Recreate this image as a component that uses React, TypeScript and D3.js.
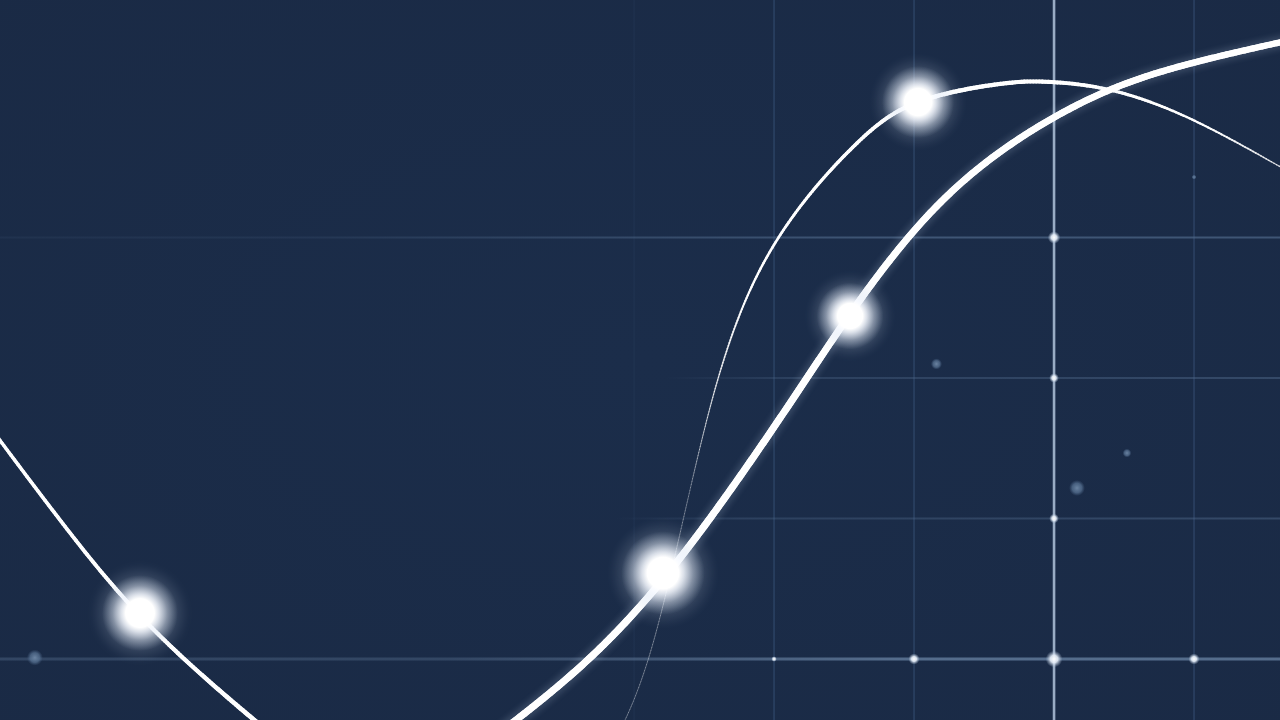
import React, { useEffect, useRef } from "react";
import * as d3 from "d3";

// grid positions (chart units)
const gridX = [-3, -2, -1, 0, 1];
const gridY = [0, 1, 2, 3];

// thin wave, left branch
const waveLeftX = [-7.743, -7.1, -6.386, -5.386];
const waveLeftY = [1.843, 0.989, 0.164, -0.705];

// thin wave, right branch
const waveRightX = [-3.243, -2.864, -2.443, -1.979, -1.436, -0.971, -0.386, -0.029, 0.4, 0.993, 1.757];
const waveRightY = [-0.754, 0.114, 1.843, 2.982, 3.644, 3.964, 4.093, 4.107, 4.05, 3.836, 3.423];

// thick growth curve
const growthX = [-4.171, -3.386, -2.671, -1.957, -1.457, -0.957, -0.386, 0.329, 1.043, 1.757];
const growthY = [-0.683, -0.057, 0.719, 1.715, 2.455, 3.096, 3.609, 4.021, 4.256, 4.42];

// glowing markers
const glowX = [-6.529, -2.793, -1.457, -0.971];
const glowY = [0.327, 0.612, 2.441, 3.964];
const glowSize = [1.0, 1.1, 0.88, 0.95];

// dust particles
const dustX = [-7.28, -0.84, 0.164, 0.521, 1.0];
const dustY = [0.01, 2.1, 1.217, 1.466, 3.43];
const dustSize = [1.0, 0.7, 1.0, 0.55, 0.3];

// grid nodes
const nodeX = [0, 0, 0, 0, -1, 1, -2];
const nodeY = [3, 2, 1, 0, 0, 0, 0];
const nodeSize = [0.9, 0.7, 0.7, 1.2, 0.8, 0.8, 0.4];

const W = 1280;
const H = 720;

export default function App() {
  const ref = useRef<SVGSVGElement | null>(null);

  useEffect(() => {
    const svg = d3.select(ref.current);
    svg.selectAll("*").remove();

    const x = d3.scaleLinear().domain([-7.529, 1.614]).range([0, W]);
    const y = d3.scaleLinear().domain([0, 3]).range([659, 237.5]);

    const defs = svg.append("defs");

    const bg = defs.append("radialGradient").attr("id", "bg").attr("cx", "50%").attr("cy", "50%").attr("r", "75%");
    bg.append("stop").attr("offset", "0%").attr("stop-color", "#1b2d4a");
    bg.append("stop").attr("offset", "100%").attr("stop-color", "#1a2a45");

    const glow = defs.append("radialGradient").attr("id", "glow");
    glow.append("stop").attr("offset", "0%").attr("stop-color", "#ffffff").attr("stop-opacity", 1);
    glow.append("stop").attr("offset", "38%").attr("stop-color", "#ffffff").attr("stop-opacity", 1);
    glow.append("stop").attr("offset", "50%").attr("stop-color", "#f4f8ff").attr("stop-opacity", 0.8);
    glow.append("stop").attr("offset", "72%").attr("stop-color", "#dfe8f5").attr("stop-opacity", 0.35);
    glow.append("stop").attr("offset", "100%").attr("stop-color", "#c8d6ea").attr("stop-opacity", 0);

    const dust = defs.append("radialGradient").attr("id", "dust");
    dust.append("stop").attr("offset", "0%").attr("stop-color", "#6f88a6").attr("stop-opacity", 0.95);
    dust.append("stop").attr("offset", "60%").attr("stop-color", "#5a7596").attr("stop-opacity", 0.7);
    dust.append("stop").attr("offset", "100%").attr("stop-color", "#4a6486").attr("stop-opacity", 0);

    const node = defs.append("radialGradient").attr("id", "node");
    node.append("stop").attr("offset", "0%").attr("stop-color", "#ffffff").attr("stop-opacity", 1);
    node.append("stop").attr("offset", "45%").attr("stop-color", "#e8f0fa").attr("stop-opacity", 0.9);
    node.append("stop").attr("offset", "100%").attr("stop-color", "#a9bbd2").attr("stop-opacity", 0);

    const blur = defs.append("filter").attr("id", "blur").attr("x", "-50%").attr("y", "-50%").attr("width", "200%").attr("height", "200%");
    blur.append("feGaussianBlur").attr("stdDeviation", 3);
    const soft = defs.append("filter").attr("id", "soft").attr("x", "-50%").attr("y", "-50%").attr("width", "200%").attr("height", "200%");
    soft.append("feGaussianBlur").attr("stdDeviation", 0.6);

    // horizontal line gradients
    const hGrad = (id: string, stops: [number, number][], color: string) => {
      const g = defs.append("linearGradient").attr("id", id).attr("gradientUnits", "userSpaceOnUse")
        .attr("x1", 0).attr("x2", W).attr("y1", 0).attr("y2", 0);
      stops.forEach(([o, a]) => g.append("stop").attr("offset", o).attr("stop-color", color).attr("stop-opacity", a));
    };
    hGrad("h0", [[0, 0.35], [0.35, 0.35], [0.5, 0.55], [0.7, 0.85], [1, 0.85]], "#5f7898");
    hGrad("h1", [[0, 0], [0.48, 0], [0.58, 0.35], [1, 0.5]], "#4e6788");
    hGrad("h2", [[0, 0], [0.52, 0], [0.62, 0.35], [1, 0.5]], "#4e6788");
    hGrad("h3", [[0, 0.12], [0.25, 0.18], [0.45, 0.45], [0.7, 0.7], [1, 0.7]], "#4e6788");

    svg.append("rect").attr("width", W).attr("height", H).attr("fill", "url(#bg)");

    // vertical grid
    gridX.forEach((gx) => {
      const main = gx === 0;
      if (main) {
        svg.append("line").attr("x1", x(gx)).attr("x2", x(gx)).attr("y1", 0).attr("y2", H)
          .attr("stroke", "#8aa0bd").attr("stroke-width", 7).attr("opacity", 0.25).attr("filter", "url(#blur)");
      }
      svg.append("line").attr("x1", x(gx)).attr("x2", x(gx)).attr("y1", 0).attr("y2", H)
        .attr("stroke", main ? "#a7bad2" : "#2e4567")
        .attr("stroke-width", main ? 2.6 : (gx === -3 ? 1 : 1.6))
        .attr("opacity", main ? 0.9 : (gx === -3 ? 0.3 : 0.85));
    });

    // horizontal grid
    gridY.forEach((gy) => {
      svg.append("line").attr("x1", 0).attr("x2", W).attr("y1", y(gy)).attr("y2", y(gy))
        .attr("stroke", `url(#h${gy})`).attr("stroke-width", gy === 0 ? 3 : 2.2);
    });

    // nodes
    nodeX.forEach((nx, i) => {
      const r = 7 * nodeSize[i];
      svg.append("circle").attr("cx", x(nx)).attr("cy", y(nodeY[i])).attr("r", r).attr("fill", "url(#node)");
    });

    // dust
    dustX.forEach((dx, i) => {
      const r = 8 * dustSize[i];
      svg.append("circle").attr("cx", x(dx)).attr("cy", y(dustY[i])).attr("r", r).attr("fill", "url(#dust)");
    });

    // variable-width curve
    const drawCurve = (xs: number[], ys: number[], widthAt: (px: number) => number, glowOp: number) => {
      const pts: [number, number][] = xs.map((v, i) => [x(v), y(ys[i])]);
      const line = d3.line().curve(d3.curveNatural);
      const tmp = svg.append("path").attr("d", line(pts) as string).attr("fill", "none").attr("stroke", "none");
      const el = tmp.node() as SVGPathElement;
      const L = el.getTotalLength();
      const n = Math.ceil(L / 3);
      const samples: { x: number; y: number }[] = [];
      for (let i = 0; i <= n; i++) {
        const p = el.getPointAtLength((L * i) / n);
        samples.push({ x: p.x, y: p.y });
      }
      tmp.remove();
      if (glowOp > 0) {
        const gG = svg.append("g").attr("filter", "url(#blur)").attr("opacity", glowOp);
        for (let i = 0; i < n; i++) {
          const a = samples[i], b = samples[i + 1];
          gG.append("line").attr("x1", a.x).attr("y1", a.y).attr("x2", b.x).attr("y2", b.y)
            .attr("stroke", "#cfe0f5").attr("stroke-width", widthAt((a.x + b.x) / 2) * 2).attr("stroke-linecap", "round");
        }
      }
      const g = svg.append("g").attr("filter", "url(#soft)");
      for (let i = 0; i < n; i++) {
        const a = samples[i], b = samples[i + 1];
        const w = widthAt((a.x + b.x) / 2);
        g.append("line").attr("x1", a.x).attr("y1", a.y).attr("x2", b.x).attr("y2", b.y)
          .attr("stroke", "#ffffff").attr("stroke-width", w).attr("stroke-linecap", "round")
          .attr("opacity", Math.min(1, 0.3 + w / 3));
      }
    };

    const leftW = d3.scaleLinear().domain([0, 140, 260]).range([3.4, 4, 4.6]).clamp(true);
    drawCurve(waveLeftX, waveLeftY, (px) => leftW(px), 0);

    const rightW = d3.scaleLinear().domain([600, 690, 715, 760, 820, 900, 960, 1060, 1180, 1280]).range([0.6, 0.6, 1.3, 2.4, 3.2, 4, 4.4, 4, 2.4, 1.3]).clamp(true);
    drawCurve(waveRightX, waveRightY, (px) => rightW(px), 0);

    const growthW = d3.scaleLinear().domain([500, 700, 1000, 1280]).range([7, 7.2, 6.8, 6.2]).clamp(true);
    drawCurve(growthX, growthY, (px) => growthW(px), 0.16);

    // glow markers
    glowX.forEach((gx, i) => {
      const r = 38 * glowSize[i];
      svg.append("circle").attr("cx", x(gx)).attr("cy", y(glowY[i])).attr("r", r * 1.3)
        .attr("fill", "url(#glow)").attr("opacity", 0.4).attr("filter", "url(#blur)");
      svg.append("circle").attr("cx", x(gx)).attr("cy", y(glowY[i])).attr("r", r).attr("fill", "url(#glow)");
    });
  }, []);

  return (
    <div style={{ position: "fixed", left: 0, top: 0, width: W, height: H, overflow: "hidden" }}>
      <svg ref={ref} width={W} height={H} style={{ display: "block" }} />
    </div>
  );
}
